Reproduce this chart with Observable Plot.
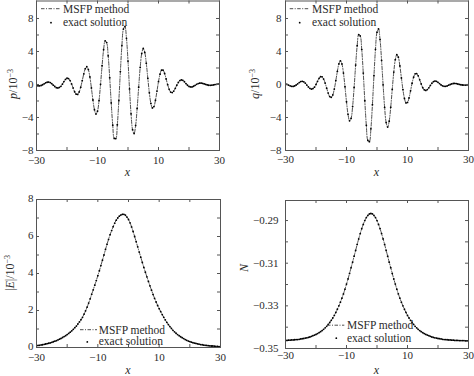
<!DOCTYPE html>
<html><head><meta charset="utf-8">
<script src="https://cdn.jsdelivr.net/npm/d3@7"></script>
<script src="https://cdn.jsdelivr.net/npm/@observablehq/plot@0.6"></script>
<style>
body{margin:0;background:#fff;}
#wrap{position:relative;width:474px;height:376px;overflow:hidden;background:#fff;}
#wrap svg{position:absolute;}
</style></head><body><div id="wrap"></div>
<script>
// ---- data ----
const xs = [
-30,-29.5,-29,-28.5,-28,-27.5,-27,-26.5,-26,-25.5,
-25,-24.5,-24,-23.5,-23,-22.5,-22,-21.5,-21,-20.5,
-20,-19.5,-19,-18.5,-18,-17.5,-17,-16.5,-16,-15.5,
-15,-14.5,-14,-13.5,-13,-12.5,-12,-11.5,-11,-10.5,
-10,-9.5,-9,-8.5,-8,-7.5,-7,-6.5,-6,-5.5,
-5,-4.5,-4,-3.5,-3,-2.5,-2,-1.5,-1,-0.5,
0,0.5,1,1.5,2,2.5,3,3.5,4,4.5,
5,5.5,6,6.5,7,7.5,8,8.5,9,9.5,
10,10.5,11,11.5,12,12.5,13,13.5,14,14.5,
15,15.5,16,16.5,17,17.5,18,18.5,19,19.5,
20,20.5,21,21.5,22,22.5,23,23.5,24,24.5,
25,25.5,26,26.5,27,27.5,28,28.5,29,29.5,
30];
const pValues = [
-0.13,-0.16,-0.16,-0.12,-0.03,0.08,0.20,0.27,0.29,0.23,
0.10,-0.08,-0.24,-0.38,-0.42,-0.36,-0.22,0.04,0.36,0.62,
0.76,0.72,0.48,0.07,-0.42,-0.88,-1.17,-1.20,-0.90,-0.32,
0.46,1.28,1.92,2.15,1.81,0.92,-0.42,-1.88,-3.05,-3.59,
-3.23,-1.96,0.02,2.27,4.22,5.29,5.08,3.48,0.83,-2.24,
-4.94,-6.54,-6.56,-4.88,-1.94,1.56,4.72,6.72,7.02,5.60,
2.84,-0.54,-3.56,-5.48,-5.95,-4.98,-2.90,-0.32,2.08,3.75,
4.36,3.89,2.56,0.75,-1.01,-2.29,-2.84,-2.68,-1.91,-0.80,
0.34,1.25,1.74,1.74,1.33,0.68,-0.02,-0.59,-0.92,-0.98,
-0.80,-0.47,-0.09,0.24,0.47,0.56,0.50,0.33,0.11,-0.09,
-0.23,-0.30,-0.29,-0.21,-0.10,0.02,0.11,0.16,0.17,0.13,
0.07,0.01,-0.05,-0.09,-0.10,-0.08,-0.05,-0.01,0.02,0.05,
0.06];
const qValues = [
0.08,0.01,-0.07,-0.16,-0.22,-0.23,-0.17,-0.06,0.08,0.23,
0.35,0.38,0.32,0.16,-0.07,-0.30,-0.47,-0.55,-0.50,-0.32,
0.00,0.39,0.74,0.95,0.93,0.66,0.17,-0.45,-1.04,-1.47,
-1.55,-1.27,-0.56,0.47,1.58,2.49,2.87,2.49,1.38,-0.27,
-2.09,-3.62,-4.40,-4.11,-2.68,-0.35,2.35,4.70,6.04,5.89,
4.23,1.38,-1.97,-4.95,-6.78,-6.93,-5.37,-2.45,1.06,4.26,
6.34,6.73,5.44,2.93,-0.05,-2.78,-4.61,-5.16,-4.44,-2.75,
-0.58,1.50,3.01,3.62,3.30,2.24,0.80,-0.62,-1.69,-2.23,
-2.17,-1.63,-0.77,0.15,0.88,1.29,1.32,1.05,0.57,0.06,
-0.38,-0.65,-0.72,-0.62,-0.40,-0.11,0.15,0.34,0.41,0.38,
0.26,0.11,-0.05,-0.16,-0.22,-0.22,-0.17,-0.08,0.00,0.07,
0.12,0.13,0.11,0.06,0.01,-0.03,-0.06,-0.07,-0.07,-0.05,
-0.02];
const eValues = [
0.10,0.11,0.12,0.14,0.15,0.17,0.19,0.21,0.23,0.25,
0.28,0.31,0.34,0.37,0.41,0.45,0.49,0.54,0.59,0.64,
0.70,0.76,0.83,0.90,0.98,1.07,1.16,1.27,1.38,1.50,
1.63,1.80,1.98,2.18,2.40,2.63,2.88,3.12,3.37,3.62,
3.88,4.15,4.43,4.72,5.00,5.30,5.58,5.85,6.10,6.32,
6.53,6.72,6.88,7.00,7.10,7.16,7.20,7.20,7.15,7.05,
6.92,6.74,6.52,6.27,6.00,5.72,5.44,5.16,4.88,4.60,
4.33,4.07,3.82,3.57,3.33,3.10,2.87,2.66,2.46,2.27,
2.10,1.94,1.78,1.63,1.49,1.36,1.24,1.13,1.03,0.93,
0.85,0.77,0.70,0.64,0.58,0.53,0.48,0.43,0.39,0.35,
0.32,0.29,0.26,0.24,0.22,0.20,0.18,0.16,0.15,0.13,
0.12,0.11,0.10,0.09,0.08,0.08,0.07,0.06,0.06,0.05,
0.05];
const nValues = [
-0.3462,-0.3462,-0.3461,-0.3461,-0.3460,-0.3460,-0.3459,-0.3458,-0.3458,-0.3457,
-0.3455,-0.3454,-0.3453,-0.3451,-0.3450,-0.3448,-0.3446,-0.3443,-0.3440,-0.3437,
-0.3434,-0.3430,-0.3426,-0.3421,-0.3416,-0.3410,-0.3403,-0.3396,-0.3387,-0.3378,
-0.3368,-0.3357,-0.3345,-0.3331,-0.3316,-0.3300,-0.3283,-0.3264,-0.3244,-0.3222,
-0.3198,-0.3174,-0.3148,-0.3121,-0.3095,-0.3067,-0.3040,-0.3012,-0.2986,-0.2961,
-0.2938,-0.2918,-0.2900,-0.2886,-0.2876,-0.2869,-0.2867,-0.2869,-0.2876,-0.2886,
-0.2900,-0.2918,-0.2938,-0.2961,-0.2986,-0.3012,-0.3040,-0.3067,-0.3095,-0.3121,
-0.3148,-0.3174,-0.3198,-0.3222,-0.3244,-0.3264,-0.3283,-0.3300,-0.3316,-0.3331,
-0.3345,-0.3357,-0.3368,-0.3378,-0.3387,-0.3396,-0.3403,-0.3410,-0.3416,-0.3421,
-0.3426,-0.3430,-0.3434,-0.3437,-0.3440,-0.3443,-0.3446,-0.3448,-0.3450,-0.3451,
-0.3453,-0.3454,-0.3455,-0.3457,-0.3458,-0.3458,-0.3459,-0.3460,-0.3460,-0.3461,
-0.3461,-0.3462,-0.3462,-0.3462,-0.3463,-0.3463,-0.3463,-0.3463,-0.3464,-0.3464,
-0.3464];

const xTickLabels = [-30, -10, 10, 30];
const xTickMarks = [-30, -20, -10, 0, 10, 20, 30];
const pqTickLabels = [-8, -4, 0, 4, 8];
const pqTickMarks = [-8, -6, -4, -2, 0, 2, 4, 6, 8];
const eTickLabels = [0, 2, 4, 6, 8];
const eTickMarks = [0, 1, 2, 3, 4, 5, 6, 7, 8];
const nTickLabels = [-0.35, -0.33, -0.31, -0.29];
const nTickMarks = [-0.35, -0.34, -0.33, -0.32, -0.31, -0.30, -0.29];
const legendLabels = ["MSFP method", "exact solution"];

// ---- drawing ----
const FONT = '"Liberation Serif", "DejaVu Serif", serif';
const INK = "#2b2b2b";
const wrap = document.getElementById("wrap");

function addRich(sel, x, y, parts, opts = {}) {
  const t = sel.append("text")
    .attr("transform", `translate(${x},${y})` + (opts.rotate ? ` rotate(${opts.rotate})` : ""))
    .attr("text-anchor", opts.anchor || "middle")
    .attr("font-family", FONT)
    .attr("font-size", opts.size || 12)
    .attr("fill", INK);
  for (const p of parts) {
    const s = t.append("tspan").text(p.t);
    if (p.i) s.attr("font-style", "italic");
    if (p.sup) s.attr("font-size", 8).attr("dy", -4.5);
  }
  return t;
}

function panel(c) {
  const data = xs.map((x, i) => ({x, v: c.values[i]}));
  const fw = c.width - c.mL - c.mR, fh = c.height - c.mT - c.mB;
  const svg = Plot.plot({
    width: c.width, height: c.height,
    marginLeft: c.mL, marginRight: c.mR, marginTop: c.mT, marginBottom: c.mB,
    x: {domain: [-30, 30]},
    y: {domain: c.yDomain},
    style: {fontFamily: FONT, fontSize: "11px", color: INK, background: "transparent", overflow: "visible"},
    marks: [
      Plot.line(data, {x: "x", y: "v", stroke: "#3a3a3a", strokeWidth: 0.9, strokeDasharray: "3.5,1.5,1,1.5", curve: "catmull-rom", clip: true}),
      Plot.dot(data, {x: "x", y: "v", r: 0.9, fill: "#000", stroke: "none", clip: true}),
      Plot.tickX(xTickMarks, {x: d => d, insetTop: fh - 3, stroke: "#555"}),
      Plot.tickX(xTickMarks, {x: d => d, insetBottom: fh - 3, stroke: "#555"}),
      Plot.tickY(c.yMarks, {y: d => d, insetRight: fw - 3, stroke: "#555"}),
      Plot.tickY(c.yMarks, {y: d => d, insetLeft: fw - 3, stroke: "#555"}),
      Plot.axisX(xTickLabels, {tickSize: 0, tickPadding: c.xPad, label: null, tickFormat: d3.format("d")}),
      Plot.axisY(c.yLabels, {tickSize: 0, tickPadding: c.yPad, label: null, tickFormat: c.fmt, dy: c.yDy || 0}),
      Plot.frame({stroke: "#555", strokeWidth: 1})
    ]
  });
  svg.style.left = c.left + "px";
  svg.style.top = c.top + "px";
  const s = d3.select(svg);
  // axis titles
  addRich(s, c.yl[0], c.yl[1], c.yParts, {rotate: -90});
  addRich(s, c.xl[0], c.xl[1], [{t: "x", i: true}]);
  // legend
  const L = c.leg;
  s.append("line").attr("x1", L.x1).attr("x2", L.x2).attr("y1", L.y1).attr("y2", L.y1)
    .attr("stroke", "#3a3a3a").attr("stroke-width", 0.9).attr("stroke-dasharray", "3.5,1.5,1,1.5");
  s.append("circle").attr("cx", L.dx).attr("cy", L.y2).attr("r", 0.9).attr("fill", "#000");
  addRich(s, L.tx, L.y1 + 3.8, [{t: legendLabels[0]}], {anchor: "start", size: 11.5});
  addRich(s, L.tx, L.y2 + 3.4, [{t: legendLabels[1]}], {anchor: "start", size: 11.5});
  wrap.appendChild(svg);
}

const fmtInt = d3.format("d");
panel({left: 0, top: 0, width: 237, height: 188, mL: 36, mR: 18, mT: 0.5, mB: 38,
  values: pValues, yDomain: [-8, 10.12], yLabels: pqTickLabels, yMarks: pqTickMarks, fmt: fmtInt,
  xPad: 5.5, yPad: 3, yl: [17, 84], xl: [127.5, 176],
  yParts: [{t: "p", i: true}, {t: "/10"}, {t: "−3", sup: true}],
  leg: {x1: 41, x2: 60, y1: 8.7, y2: 22.7, dx: 51, tx: 63}});
panel({left: 237, top: 0, width: 237, height: 188, mL: 48, mR: 6, mT: 0.5, mB: 38,
  values: qValues, yDomain: [-8, 10.12], yLabels: pqTickLabels, yMarks: pqTickMarks, fmt: fmtInt,
  xPad: 5, yPad: 4, yl: [22, 84], xl: [139.5, 176],
  yParts: [{t: "q", i: true}, {t: "/10"}, {t: "−3", sup: true}],
  leg: {x1: 52.7, x2: 72.7, y1: 8.7, y2: 22.7, dx: 62.7, tx: 75}});
panel({left: 0, top: 188, width: 237, height: 188, mL: 36, mR: 17, mT: 11, mB: 29,
  values: eValues, yDomain: [0, 8], yLabels: eTickLabels, yMarks: eTickMarks, fmt: fmtInt,
  xPad: 6, yPad: 3, yDy: -1.5, yl: [14, 85], xl: [128, 186],
  yParts: [{t: "|"}, {t: "E", i: true}, {t: "|/10"}, {t: "−3", sup: true}],
  leg: {x1: 80, x2: 97, y1: 141.7, y2: 153.9, dx: 87.3, tx: 98.7}});
panel({left: 237, top: 188, width: 237, height: 188, mL: 48, mR: 6, mT: 12, mB: 28,
  values: nValues, yDomain: [-0.35, -0.2806], yLabels: nTickLabels, yMarks: nTickMarks, fmt: d3.format(".2f"),
  xPad: 3, yPad: 7, yl: [11, 80], xl: [139.5, 185.5],
  yParts: [{t: "N", i: true}],
  leg: {x1: 90, x2: 107.3, y1: 137.2, y2: 150.2, dx: 99.3, tx: 110}});
</script>
</body></html>
